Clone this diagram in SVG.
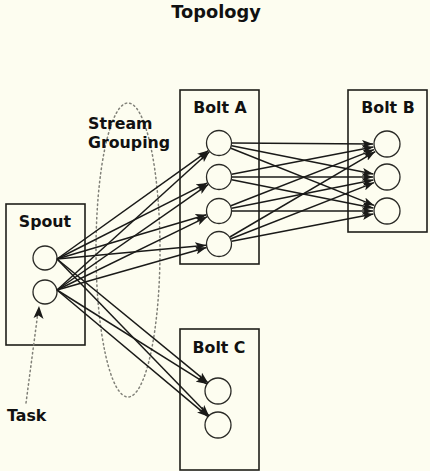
<svg xmlns="http://www.w3.org/2000/svg" width="430" height="471" viewBox="0 0 430 471">
<defs>
<style>
.bg{fill:#fdfdf0}
.box{fill:none;stroke:#1e1e1a;stroke-width:1.6}
.task{fill:#fdfdf0;stroke:#2a2a26;stroke-width:1.3}
.lbl{font-family:"DejaVu Sans",sans-serif;font-weight:bold;font-size:15.8px;fill:#111;text-anchor:middle}
.edge{stroke:#1a1a18;stroke-width:1.5;fill:none;marker-end:url(#ah)}
.dot{stroke:#808078;stroke-width:1.5;fill:none;stroke-dasharray:1.5 3;stroke-linecap:round}
</style>
<marker id="ah" markerUnits="userSpaceOnUse" markerWidth="11" markerHeight="8" refX="11" refY="4" orient="auto">
<path d="M0,0 L11,4 L0,8 L2.5,4 z" fill="#1a1a18"/>
</marker>
</defs>
<rect class="bg" x="0" y="0" width="430" height="471"/>
<text class="lbl" x="216" y="18" style="font-size:17.8px">Topology</text>

<g id="stream-grouping">
<ellipse class="dot" cx="128" cy="250" rx="32" ry="147"/>
<text class="lbl" x="88" y="129" style="text-anchor:start">Stream</text>
<text class="lbl" x="88" y="148" style="text-anchor:start">Grouping</text>
</g>

<g id="spout">
<rect class="box" x="6" y="204" width="79" height="141"/>
<text class="lbl" x="45" y="227">Spout</text>
<circle class="task" cx="45" cy="258" r="12"/>
<circle class="task" cx="45" cy="292" r="12"/>
</g>

<g id="bolt-a">
<rect class="box" x="180" y="90" width="79" height="174"/>
<text class="lbl" x="220" y="113">Bolt A</text>
<circle class="task" cx="219" cy="143" r="12.5"/>
<circle class="task" cx="219" cy="177" r="12.5"/>
<circle class="task" cx="219" cy="211" r="12.5"/>
<circle class="task" cx="219" cy="244" r="12.5"/>
</g>

<g id="bolt-b">
<rect class="box" x="348" y="90" width="79" height="142"/>
<text class="lbl" x="388" y="113">Bolt B</text>
<circle class="task" cx="387" cy="144" r="13"/>
<circle class="task" cx="387" cy="177" r="13"/>
<circle class="task" cx="387" cy="211" r="13"/>
</g>

<g id="bolt-c">
<rect class="box" x="180" y="329" width="79" height="141"/>
<text class="lbl" x="219" y="353">Bolt C</text>
<circle class="task" cx="218" cy="391" r="13"/>
<circle class="task" cx="218" cy="425" r="13"/>
</g>

<g id="task-label">
<text class="lbl" x="7" y="421" style="text-anchor:start">Task</text>
</g>

<g id="connectors">
<line class="edge" x1="57" y1="259" x2="208.4" y2="150.6"/>
<line class="edge" x1="57" y1="259" x2="207.4" y2="182.9"/>
<line class="edge" x1="57" y1="259" x2="206.5" y2="214.7"/>
<line class="edge" x1="57" y1="259" x2="206.1" y2="245.2"/>
<line class="edge" x1="57" y1="259" x2="208.0" y2="382.8"/>
<line class="edge" x1="57" y1="259" x2="209.0" y2="415.7"/>
<line class="edge" x1="57" y1="290" x2="209.4" y2="151.7"/>
<line class="edge" x1="57" y1="290" x2="208.3" y2="184.4"/>
<line class="edge" x1="57" y1="290" x2="207.3" y2="216.7"/>
<line class="edge" x1="57" y1="290" x2="206.5" y2="247.5"/>
<line class="edge" x1="57" y1="290" x2="207.0" y2="384.1"/>
<line class="edge" x1="57" y1="290" x2="208.0" y2="416.6"/>

<line class="edge" x1="232" y1="143" x2="373" y2="144"/>
<line class="edge" x1="231.7" y1="145.8" x2="373.3" y2="174.0"/>
<line class="edge" x1="230.9" y1="148.2" x2="374.2" y2="205.4"/>
<line class="edge" x1="231.7" y1="174.3" x2="373.3" y2="146.9"/>
<line class="edge" x1="232" y1="177" x2="373" y2="177"/>
<line class="edge" x1="231.7" y1="179.8" x2="373.3" y2="208.0"/>
<line class="edge" x1="230.9" y1="205.8" x2="374.1" y2="149.6"/>
<line class="edge" x1="231.7" y1="208.2" x2="373.3" y2="180.0"/>
<line class="edge" x1="232" y1="211" x2="373" y2="211"/>
<line class="edge" x1="229.9" y1="237.0" x2="375.2" y2="151.6"/>
<line class="edge" x1="230.9" y1="238.8" x2="374.1" y2="182.6"/>
<line class="edge" x1="231.7" y1="241.3" x2="373.3" y2="213.9"/>

<line class="dot" x1="26" y1="403" x2="38" y2="312"/>
<path d="M39,306 L43.5,319 L38.6,315.5 L33.5,318 z" fill="#1a1a18"/>
</g>
</svg>
